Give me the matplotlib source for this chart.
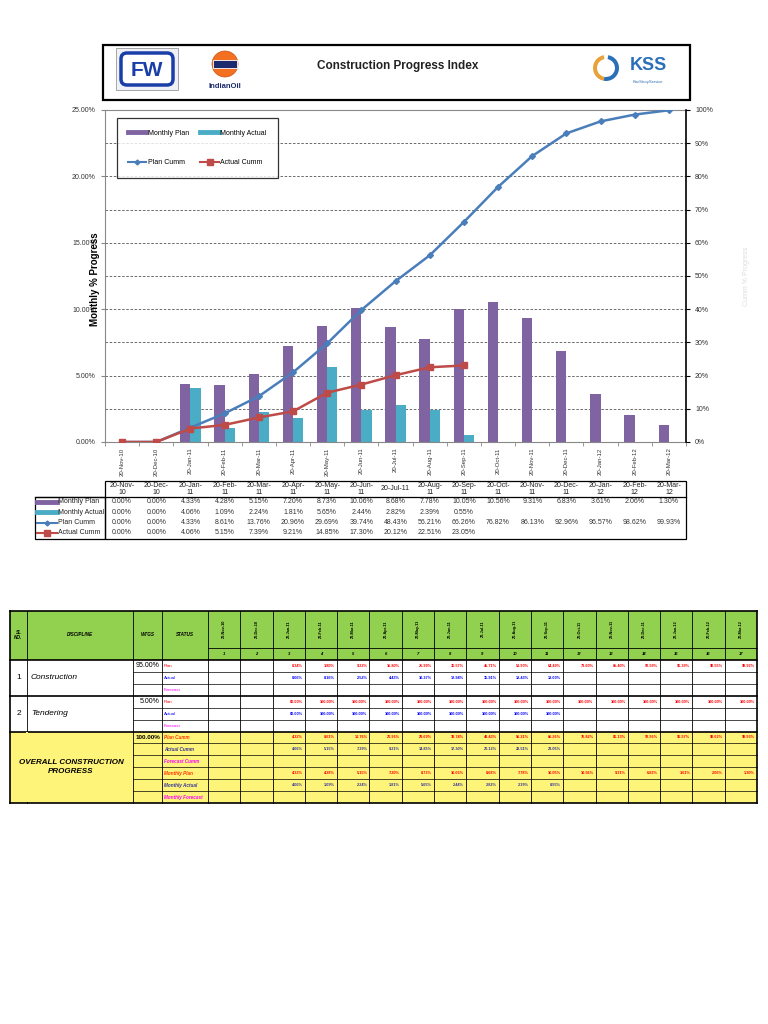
import matplotlib
matplotlib.use("Agg")
import matplotlib.pyplot as plt
from matplotlib.patches import Rectangle, Circle, FancyBboxPatch, Wedge
from matplotlib.lines import Line2D
from matplotlib.ticker import MultipleLocator, FuncFormatter
import numpy as np

plt.rcParams["font.family"] = ["Liberation Sans", "DejaVu Sans"]

months = ["20-Nov-10", "20-Dec-10", "20-Jan-11", "20-Feb-11", "20-Mar-11", "20-Apr-11",
          "20-May-11", "20-Jun-11", "20-Jul-11", "20-Aug-11", "20-Sep-11", "20-Oct-11",
          "20-Nov-11", "20-Dec-11", "20-Jan-12", "20-Feb-12", "20-Mar-12"]
monthly_plan = [0.00, 0.00, 4.33, 4.28, 5.15, 7.20, 8.73, 10.06, 8.68, 7.78, 10.05, 10.56,
                9.31, 6.83, 3.61, 2.06, 1.30]
monthly_actual = [0.00, 0.00, 4.06, 1.09, 2.24, 1.81, 5.65, 2.44, 2.82, 2.39, 0.55]
plan_cumm = [0.00, 0.00, 4.33, 8.61, 13.76, 20.96, 29.69, 39.74, 48.43, 56.21, 66.26, 76.82,
             86.13, 92.96, 96.57, 98.62, 99.93]
actual_cumm = [0.00, 0.00, 4.06, 5.15, 7.39, 9.21, 14.85, 17.30, 20.12, 22.51, 23.05]

# discipline breakdown (bottom table), None = blank cell
con_plan = [None, None, 0.34, 3.80, 9.22, 16.80, 25.99, 36.57, 45.71, 53.90, 64.49, 73.60,
            85.40, 92.59, 96.39, 98.55, 99.92]
con_actual = [None, None, 0.06, 0.16, 2.52, 4.43, 10.37, 12.94, 15.91, 18.43, 19.00]
ten_plan = [None, None, 80.00] + [100.00] * 14
ten_actual = [None, None, 80.00] + [100.00] * 8
weights = [95.00, 5.00, 100.00]

PURPLE = "#8064A2"
TEAL = "#4BACC6"
BLUE = "#4A7EBB"
RED = "#BE4B48"

W, H = 768, 1024
fig = plt.figure(figsize=(7.68, 10.24), dpi=100)


def px(x0, y0, x1, y1):
    return [x0 / W, 1 - y1 / H, (x1 - x0) / W, (y1 - y0) / H]


bg = fig.add_axes([0, 0, 1, 1])
bg.set_xlim(0, W)
bg.set_ylim(H, 0)
bg.axis("off")

# ---------------- header ----------------
bg.add_patch(Rectangle((103, 45), 587, 55, fill=False, ec="black", lw=1.6))
bg.add_patch(Rectangle((116, 48), 62, 42, fc="#eef2f8", ec="#999999", lw=0.6))
bg.add_patch(FancyBboxPatch((121, 53), 52, 32, boxstyle="round,pad=0,rounding_size=6",
                            fc="white", ec="#1a3ea8", lw=2.5))
bg.text(147, 70, "FW", fontsize=15, fontweight="bold", color="#1a3ea8", ha="center", va="center")
bg.add_patch(Circle((225, 64), 13, fc="#F37021", ec="#d05010", lw=0.5))
bg.add_patch(Rectangle((213, 60), 24, 8, fc="#1c2a6e", ec="white", lw=0.6))
bg.text(225, 87, "IndianOil", fontsize=5.5, fontweight="bold", color="#1c2a6e", ha="center", va="center")
bg.text(398, 66, "Construction Progress Index", fontsize=8.5, fontweight="bold", color="#222222",
        ha="center", va="center")
bg.add_patch(Wedge((606, 68), 13, 100, 260, width=4, fc="#E8A23A"))
bg.add_patch(Wedge((606, 68), 13, -80, 100, width=4, fc="#2a6fb8"))
bg.text(648, 66, "KSS", fontsize=13, fontweight="bold", color="#2a6fb8", ha="center", va="center")
bg.text(648, 82, "KazStroyService", fontsize=3, color="#2a6fb8", ha="center", va="center")

# ---------------- chart ----------------
ax = fig.add_axes(px(105, 110, 686, 442))
x = np.arange(len(months))
ax.bar(x[:len(monthly_plan)] - 0.15, monthly_plan, 0.3, color=PURPLE, zorder=2)
ax.bar(x[:len(monthly_actual)] + 0.15, monthly_actual, 0.3, color=TEAL, zorder=2)
ax.set_xlim(-0.5, len(months) - 0.5)
ax.set_ylim(0, 25)
ax.yaxis.set_major_locator(MultipleLocator(5))
ax.yaxis.set_minor_locator(MultipleLocator(2.5))
ax.yaxis.set_major_formatter(FuncFormatter(lambda v, p: f"{v:.2f}%"))
ax.grid(axis="y", which="both", ls=(0, (3, 2)), color="#555555", lw=0.6)
ax.set_axisbelow(True)
ax.set_xticks(x)
ax.set_xticklabels(months, rotation=90, fontsize=4.3, color="#333333")
ax.set_xticks(np.arange(len(months) + 1) - 0.5, minor=True)
ax.tick_params(axis="x", which="major", length=0, pad=4)
ax.tick_params(axis="x", which="minor", length=3, color="#888888")
ax.tick_params(axis="y", which="major", labelsize=5, length=3, color="#888888", labelcolor="#333333")
ax.tick_params(axis="y", which="minor", length=0)
for s in ["left", "bottom", "top"]:
    ax.spines[s].set_color("#888888")
ax.spines["right"].set_visible(False)
ax.set_ylabel("Monthly % Progress", fontsize=7, fontweight="bold")
ax.yaxis.set_label_coords(-0.008, 0.49)

ax2 = ax.twinx()
ax2.plot(x[:len(plan_cumm)], plan_cumm, color=BLUE, lw=1.8, marker="D", ms=3, zorder=3)
ax2.plot(x[:len(actual_cumm)], actual_cumm, color=RED, lw=1.8, marker="s", ms=5, zorder=4)
ax2.set_ylim(0, 100)
ax2.yaxis.set_major_locator(MultipleLocator(10))
ax2.yaxis.set_major_formatter(FuncFormatter(lambda v, p: f"{v:.0f}%"))
ax2.tick_params(axis="y", labelsize=5, length=3, labelcolor="#333333")
ax2.spines["right"].set_linewidth(1.2)
for s in ["left", "bottom", "top"]:
    ax2.spines[s].set_visible(False)
ax2.set_ylabel("Cumm % Progress", fontsize=5, color="#dddddd", labelpad=22)

labels = ["Monthly Plan", "Monthly Actual", "Plan Cumm", "Actual Cumm"]
handles = [Line2D([], [], color=PURPLE, lw=3.5),
           Line2D([], [], color=TEAL, lw=3.5),
           Line2D([], [], color=BLUE, lw=1.5, marker="D", ms=2.5),
           Line2D([], [], color=RED, lw=1.5, marker="s", ms=4)]
order = [0, 2, 1, 3]  # ncol=2 fills column-wise
leg = ax2.legend([handles[i] for i in order], [labels[i] for i in order], ncol=2,
                 loc="upper left", bbox_to_anchor=(0.014, 0.985),
                 fontsize=5, frameon=True, fancybox=False, edgecolor="black",
                 labelspacing=3.3, columnspacing=1.6, handlelength=2.7, handletextpad=0.2,
                 borderpad=1.6)
leg.get_frame().set_linewidth(0.9)

# ---------------- data table under chart ----------------
cw = (686 - 105) / len(months)
colx = [105 + (i + 0.5) * cw for i in range(len(months))]
bg.add_patch(Rectangle((105, 481), 581, 58, fill=False, ec="black", lw=0.9))
bg.add_patch(Rectangle((35, 497), 70, 42, fill=False, ec="black", lw=0.9))
bg.plot([35, 686], [497, 497], color="black", lw=0.9)
for i, lab in enumerate(months):
    head = lab if "Jul" in lab else "-\n".join(lab.rsplit("-", 1))
    bg.text(colx[i], 489, head, fontsize=5, ha="center", va="center", linespacing=0.9, color="#222222")
row_y = [501.5, 512, 522.5, 533]
series = [monthly_plan, monthly_actual, plan_cumm, actual_cumm]
for r, (lab, h, vals) in enumerate(zip(labels, handles, series)):
    y = row_y[r]
    bg.plot([37, 57], [y, y], color=h.get_color(), lw=h.get_linewidth())
    if h.get_marker() not in (None, "None", ""):
        bg.plot([47], [y], color=h.get_color(), marker=h.get_marker(), ms=h.get_markersize())
    bg.text(58, y, lab, fontsize=5, ha="left", va="center", color="#222222")
    for i, v in enumerate(vals):
        bg.text(colx[i], y, f"{v:.2f}%", fontsize=5, ha="center", va="center", color="#333333")

# ---------------- bottom progress table ----------------
L, R = 10, 757
dx = [208 + k * (R - 208) / len(months) for k in range(len(months) + 1)]
vcols = [L, 27, 133, 162] + dx
top, hmid, hbot = 611, 648, 660
rh = (803 - hbot) / 12

bg.add_patch(Rectangle((L, top), R - L, hbot - top, fc="#92D050", ec="none"))
bg.add_patch(Rectangle((L, hbot + 6 * rh), R - L, 6 * rh, fc="#FFF47A", ec="none"))

hdr = dict(fontsize=3.3, fontweight="bold", fontstyle="italic", ha="center", va="center")
bg.text(18.5, 635, "SL\nNO.", **hdr)
bg.text(80, 635, "DISCIPLINE", **hdr)
bg.text(147.5, 635, "WTGS", **hdr)
bg.text(185, 635, "STATUS", **hdr)
for i, lab in enumerate(months):
    cx = (dx[i] + dx[i + 1]) / 2
    bg.text(cx, 629, lab, fontsize=2.8, fontweight="bold", rotation=90, ha="center", va="center")
    bg.text(cx, 654, str(i + 1), fontsize=3, fontweight="bold", fontstyle="italic", ha="center", va="center")

# grid lines
bg.plot([208, R], [hmid, hmid], color="black", lw=0.6)
for k in range(13):
    y = hbot + k * rh
    full = k in (0, 3, 6, 12)
    bg.plot([L if full else 133, R], [y, y], color="black", lw=1.2 if full else 0.5)
for xv in vcols:
    lw = 1.2 if xv in (L, R) else 0.6
    bg.plot([xv, xv], [top, hbot + 12 * rh], color="black", lw=lw)
bg.plot([L, R], [top, top], color="black", lw=1.2)
# the SL/discipline cells are merged inside the overall block
bg.add_patch(Rectangle((26, hbot + 6 * rh + 0.6), 2, 6 * rh - 1.2, fc="#FFF47A", ec="none", zorder=3))

RED_T, BLUE_T, MAG_T, NAVY_T, ORG_T = "#FF0000", "#0000FF", "#FF00FF", "#333399", "#FF3300"


def put_row(r, vals, color, start=0):
    yc = hbot + (r + 0.5) * rh
    for i, v in enumerate(vals):
        if v is None or i < start:
            continue
        bg.text(dx[i + 1] - 2, yc, f"{v:.2f}%", fontsize=2.8, fontweight="bold", color=color,
                ha="right", va="center")


for blk, (num, name, plan, act) in enumerate([(1, "Construction", con_plan, con_actual),
                                               (2, "Tendering", ten_plan, ten_actual)]):
    r0 = blk * 3
    ymid = hbot + (r0 + 1.5) * rh
    bg.text(18.5, ymid, str(num), fontsize=6, ha="center", va="center")
    bg.text(31, ymid, name, fontsize=6, fontstyle="italic", ha="left", va="center")
    bg.text(160, hbot + (r0 + 0.5) * rh, f"{weights[blk]:.2f}%", fontsize=5, ha="right", va="center")
    for k, (st, c) in enumerate([("Plan", RED_T), ("Actual", BLUE_T), ("Forecast", MAG_T)]):
        bg.text(164, hbot + (r0 + k + 0.5) * rh, st, fontsize=3.2, color=c, ha="left", va="center")
    put_row(r0, plan, RED_T)
    put_row(r0 + 1, act, BLUE_T)

ymid = hbot + 9 * rh
bg.text(71, ymid, "OVERALL CONSTRUCTION\nPROGRESS", fontsize=5.8, fontweight="bold",
        fontstyle="italic", ha="center", va="center", linespacing=1.3, zorder=4)
bg.text(160, hbot + 6.5 * rh, f"{weights[2]:.2f}%", fontsize=4.5, fontweight="bold", ha="right", va="center")
overall = [("Plan Cumm", ORG_T), ("Actual Cumm", NAVY_T), ("Forecast Cumm", MAG_T),
           ("Monthly Plan", ORG_T), ("Monthly Actual", NAVY_T), ("Monthly Forecast", MAG_T)]
for k, (st, c) in enumerate(overall):
    bg.text(164, hbot + (6 + k + 0.5) * rh, st, fontsize=3.3, fontweight="bold", fontstyle="italic",
            color=c, ha="left", va="center")
put_row(6, plan_cumm, RED_T, start=2)
put_row(7, actual_cumm, NAVY_T, start=2)
put_row(9, monthly_plan, RED_T, start=2)
put_row(10, monthly_actual, NAVY_T, start=2)

fig.savefig("out.png", dpi=100)
